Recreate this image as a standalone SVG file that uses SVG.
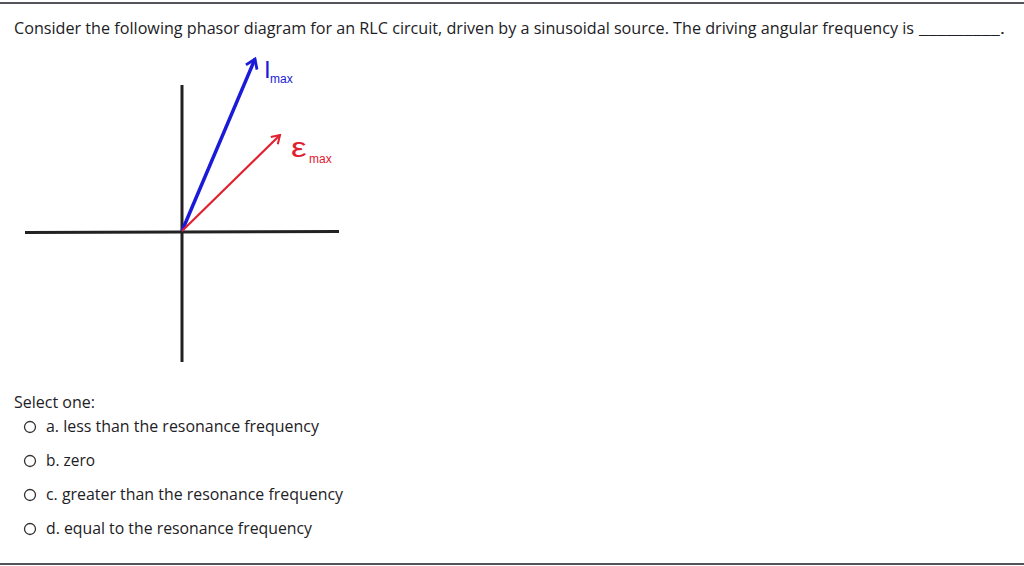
<svg xmlns="http://www.w3.org/2000/svg" width="1024" height="566" viewBox="0 0 1024 566">
<style>
.t{font-family:"Open Sans","Noto Sans",sans-serif;font-size:15.5px;fill:#1d2125}
.ax{stroke:#222;stroke-width:3;fill:none}
.radio{fill:#fff;stroke:#333;stroke-width:1.3}
.lbl{font-family:"Liberation Sans",Arial,sans-serif}
</style>
<defs>
<marker id="ab" markerWidth="14" markerHeight="14" refX="11" refY="7" orient="auto" markerUnits="userSpaceOnUse" viewBox="0 0 14 14">
<path d="M2,1 L11,7 L2,13" fill="none" stroke="#1a1ad8" stroke-width="2.8"/>
</marker>
<marker id="ar" markerWidth="12" markerHeight="12" refX="10" refY="6" orient="auto" markerUnits="userSpaceOnUse" viewBox="0 0 12 12">
<path d="M2,1 L10,6 L2,11" fill="none" stroke="#e0202e" stroke-width="2"/>
</marker>
</defs>
<rect width="1024" height="566" fill="#fff"/>
<line x1="0" y1="3" x2="1024" y2="3" stroke="#1a1d24" stroke-width="1.5"/>
<line x1="0" y1="564" x2="1024" y2="564" stroke="#1a1d24" stroke-width="1.5"/>
<g id="question"><text class="t" x="14" y="34" textLength="900" lengthAdjust="spacingAndGlyphs">Consider the following phasor diagram for an RLC circuit, driven by a sinusoidal source.  The driving angular frequency is</text><text class="t" x="919" y="34" textLength="86" lengthAdjust="spacingAndGlyphs">_________.</text></g>
<g id="axes">
<line class="ax" x1="25" y1="232.5" x2="339" y2="231.5"/>
<line class="ax" x1="182" y1="85" x2="182" y2="362"/>
</g>
<g id="connectors">
<line x1="182" y1="231" x2="255" y2="59" stroke="#1a1ad8" stroke-width="3.5" marker-end="url(#ab)"/>
<line x1="182" y1="231" x2="280" y2="135" stroke="#e0202e" stroke-width="2.2" marker-end="url(#ar)"/>
</g>
<g id="imax" class="lbl" fill="#1a1ad8"><text x="264" y="78" font-size="24">I</text><text x="270" y="83" font-size="12">max</text></g>
<g id="emax" class="lbl" fill="#e0202e"><text x="291" y="157" font-size="28" transform="translate(291 0) scale(1.25 1) translate(-291 0)">ε</text><text x="309" y="163" font-size="12">max</text></g>
<g id="options">
<text class="t" x="14" y="408" textLength="81" lengthAdjust="spacingAndGlyphs">Select one:</text>
<circle class="radio" cx="30" cy="427" r="5.5"/><text class="t" x="46" y="432" textLength="273" lengthAdjust="spacingAndGlyphs">a. less than the resonance frequency</text>
<circle class="radio" cx="30" cy="461" r="5.5"/><text class="t" x="46" y="466" textLength="49" lengthAdjust="spacingAndGlyphs">b. zero</text>
<circle class="radio" cx="30" cy="495" r="5.5"/><text class="t" x="46" y="500" textLength="297" lengthAdjust="spacingAndGlyphs">c. greater than the resonance frequency</text>
<circle class="radio" cx="30" cy="529" r="5.5"/><text class="t" x="46" y="534" textLength="266" lengthAdjust="spacingAndGlyphs">d. equal to the resonance frequency</text>
</g>
</svg>
